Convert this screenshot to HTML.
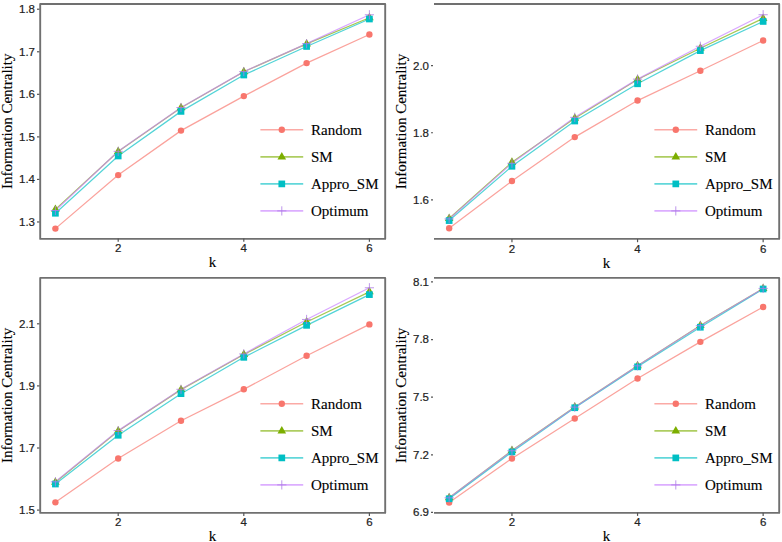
<!DOCTYPE html><html><head><meta charset="utf-8"><style>html,body{margin:0;padding:0;background:#fff;width:782px;height:542px;overflow:hidden}svg{display:block}.t{font-family:"Liberation Sans",sans-serif;font-size:11.5px;fill:#222;stroke:#222;stroke-width:0.2px}.s{font-family:"Liberation Serif",serif;font-size:15px;fill:#000;stroke:#000;stroke-width:0.12px}</style></head><body>
<svg width="782" height="542" viewBox="0 0 782 542"><g><rect width="782" height="542" fill="#fff"/>
<polyline points="55.4,228.61 118.2,175.08 181,130.62 243.8,96.11 306.6,63.09 369.4,34.5" fill="none" stroke="#F8766D" stroke-width="1.25" stroke-opacity="0.68"/>
<polyline points="55.4,209.38 118.2,151.55 181,107.73 243.8,71.77 306.6,43.9 369.4,17.73" fill="none" stroke="#7CAE00" stroke-width="1.25" stroke-opacity="0.68"/>
<polyline points="55.4,213.25 118.2,155.98 181,111.39 243.8,75.01 306.6,46.46 369.4,19.01" fill="none" stroke="#00BFC4" stroke-width="1.25" stroke-opacity="0.68"/>
<polyline points="55.4,210.49 118.2,151.34 181,107.52 243.8,71.6 306.6,43.69 369.4,14.76" fill="none" stroke="#C77CFF" stroke-width="1.25" stroke-opacity="0.68"/>
<circle cx="55.4" cy="228.61" r="3.2" fill="#F8766D"/>
<circle cx="118.2" cy="175.08" r="3.2" fill="#F8766D"/>
<circle cx="181" cy="130.62" r="3.2" fill="#F8766D"/>
<circle cx="243.8" cy="96.11" r="3.2" fill="#F8766D"/>
<circle cx="306.6" cy="63.09" r="3.2" fill="#F8766D"/>
<circle cx="369.4" cy="34.5" r="3.2" fill="#F8766D"/>
<polygon points="55.4,204.4 59.71,211.87 51.09,211.87" fill="#7CAE00"/>
<polygon points="118.2,146.58 122.51,154.04 113.89,154.04" fill="#7CAE00"/>
<polygon points="181,102.75 185.31,110.22 176.69,110.22" fill="#7CAE00"/>
<polygon points="243.8,66.8 248.11,74.26 239.49,74.26" fill="#7CAE00"/>
<polygon points="306.6,38.93 310.91,46.39 302.29,46.39" fill="#7CAE00"/>
<polygon points="369.4,12.76 373.71,20.22 365.09,20.22" fill="#7CAE00"/>
<rect x="52.05" y="209.9" width="6.7" height="6.7" fill="#00BFC4"/>
<rect x="114.85" y="152.63" width="6.7" height="6.7" fill="#00BFC4"/>
<rect x="177.65" y="108.04" width="6.7" height="6.7" fill="#00BFC4"/>
<rect x="240.45" y="71.66" width="6.7" height="6.7" fill="#00BFC4"/>
<rect x="303.25" y="43.11" width="6.7" height="6.7" fill="#00BFC4"/>
<rect x="366.05" y="15.66" width="6.7" height="6.7" fill="#00BFC4"/>
<path d="M50.8 210.49H60M55.4 205.89V215.09" stroke="#AE7CE6" stroke-width="0.95" stroke-opacity="0.85" fill="none"/>
<path d="M113.6 151.34H122.8M118.2 146.74V155.94" stroke="#AE7CE6" stroke-width="0.95" stroke-opacity="0.85" fill="none"/>
<path d="M176.4 107.52H185.6M181 102.92V112.12" stroke="#AE7CE6" stroke-width="0.95" stroke-opacity="0.85" fill="none"/>
<path d="M239.2 71.6H248.4M243.8 67V76.2" stroke="#AE7CE6" stroke-width="0.95" stroke-opacity="0.85" fill="none"/>
<path d="M302 43.69H311.2M306.6 39.09V48.29" stroke="#AE7CE6" stroke-width="0.95" stroke-opacity="0.85" fill="none"/>
<path d="M364.8 14.76H374M369.4 10.16V19.36" stroke="#AE7CE6" stroke-width="0.95" stroke-opacity="0.85" fill="none"/>
<line x1="260.4" y1="129.7" x2="303.2" y2="129.7" stroke="#F8766D" stroke-width="1.6" stroke-opacity="0.62"/>
<circle cx="281.8" cy="129.7" r="3.2" fill="#F8766D"/>
<text class="s" x="311" y="134.7">Random</text>
<line x1="260.4" y1="156.9" x2="303.2" y2="156.9" stroke="#7CAE00" stroke-width="1.6" stroke-opacity="0.62"/>
<polygon points="281.8,151.92 286.11,159.39 277.49,159.39" fill="#7CAE00"/>
<text class="s" x="311" y="161.9">SM</text>
<line x1="260.4" y1="183.9" x2="303.2" y2="183.9" stroke="#00BFC4" stroke-width="1.6" stroke-opacity="0.62"/>
<rect x="278.45" y="180.55" width="6.7" height="6.7" fill="#00BFC4"/>
<text class="s" x="311" y="188.9">Appro_SM</text>
<line x1="260.4" y1="210.9" x2="303.2" y2="210.9" stroke="#C77CFF" stroke-width="1.6" stroke-opacity="0.62"/>
<path d="M277.2 210.9H286.4M281.8 206.3V215.5" stroke="#AE7CE6" stroke-width="0.95" stroke-opacity="0.85" fill="none"/>
<text class="s" x="311" y="215.9">Optimum</text>
<path d="M40.2 4H385.2V238.9H40.2Z" fill="none" stroke="#707070" stroke-width="1.9" stroke-linejoin="round"/>
<line x1="37" y1="221.97" x2="39.5" y2="221.97" stroke="#555" stroke-width="1.2"/>
<text class="t" x="35" y="225.78" text-anchor="end">1.3</text>
<line x1="37" y1="179.43" x2="39.5" y2="179.43" stroke="#555" stroke-width="1.2"/>
<text class="t" x="35" y="183.23" text-anchor="end">1.4</text>
<line x1="37" y1="136.88" x2="39.5" y2="136.88" stroke="#555" stroke-width="1.2"/>
<text class="t" x="35" y="140.68" text-anchor="end">1.5</text>
<line x1="37" y1="94.32" x2="39.5" y2="94.32" stroke="#555" stroke-width="1.2"/>
<text class="t" x="35" y="98.12" text-anchor="end">1.6</text>
<line x1="37" y1="51.78" x2="39.5" y2="51.78" stroke="#555" stroke-width="1.2"/>
<text class="t" x="35" y="55.58" text-anchor="end">1.7</text>
<line x1="37" y1="9.22" x2="39.5" y2="9.22" stroke="#555" stroke-width="1.2"/>
<text class="t" x="35" y="13.02" text-anchor="end">1.8</text>
<line x1="118.2" y1="238.5" x2="118.2" y2="241.7" stroke="#555" stroke-width="1.2"/>
<text class="t" x="118.2" y="252.2" text-anchor="middle">2</text>
<line x1="243.8" y1="238.5" x2="243.8" y2="241.7" stroke="#555" stroke-width="1.2"/>
<text class="t" x="243.8" y="252.2" text-anchor="middle">4</text>
<line x1="369.4" y1="238.5" x2="369.4" y2="241.7" stroke="#555" stroke-width="1.2"/>
<text class="t" x="369.4" y="252.2" text-anchor="middle">6</text>
<text class="s" x="212.5" y="267.2" text-anchor="middle">k</text>
<text class="s" transform="translate(11.7 121.25) rotate(-90)" text-anchor="middle">Information Centrality</text>
<polyline points="449.15,228.3 511.95,181.03 574.75,137.11 637.55,100.57 700.35,70.73 763.15,40.56" fill="none" stroke="#F8766D" stroke-width="1.25" stroke-opacity="0.68"/>
<polyline points="449.15,218.57 511.95,162.25 574.75,118.33 637.55,79.45 700.35,48.27 763.15,18.43" fill="none" stroke="#7CAE00" stroke-width="1.25" stroke-opacity="0.68"/>
<polyline points="449.15,220.59 511.95,166.28 574.75,121.02 637.55,83.8 700.35,50.61 763.15,21.45" fill="none" stroke="#00BFC4" stroke-width="1.25" stroke-opacity="0.68"/>
<polyline points="449.15,218.91 511.95,163.26 574.75,117.33 637.55,79.11 700.35,46.26 763.15,14.74" fill="none" stroke="#C77CFF" stroke-width="1.25" stroke-opacity="0.68"/>
<circle cx="449.15" cy="228.3" r="3.2" fill="#F8766D"/>
<circle cx="511.95" cy="181.03" r="3.2" fill="#F8766D"/>
<circle cx="574.75" cy="137.11" r="3.2" fill="#F8766D"/>
<circle cx="637.55" cy="100.57" r="3.2" fill="#F8766D"/>
<circle cx="700.35" cy="70.73" r="3.2" fill="#F8766D"/>
<circle cx="763.15" cy="40.56" r="3.2" fill="#F8766D"/>
<polygon points="449.15,213.6 453.46,221.06 444.84,221.06" fill="#7CAE00"/>
<polygon points="511.95,157.28 516.26,164.74 507.64,164.74" fill="#7CAE00"/>
<polygon points="574.75,113.36 579.06,120.82 570.44,120.82" fill="#7CAE00"/>
<polygon points="637.55,74.47 641.86,81.93 633.24,81.93" fill="#7CAE00"/>
<polygon points="700.35,43.29 704.66,50.76 696.04,50.76" fill="#7CAE00"/>
<polygon points="763.15,13.45 767.46,20.92 758.84,20.92" fill="#7CAE00"/>
<rect x="445.8" y="217.24" width="6.7" height="6.7" fill="#00BFC4"/>
<rect x="508.6" y="162.93" width="6.7" height="6.7" fill="#00BFC4"/>
<rect x="571.4" y="117.67" width="6.7" height="6.7" fill="#00BFC4"/>
<rect x="634.2" y="80.45" width="6.7" height="6.7" fill="#00BFC4"/>
<rect x="697" y="47.26" width="6.7" height="6.7" fill="#00BFC4"/>
<rect x="759.8" y="18.1" width="6.7" height="6.7" fill="#00BFC4"/>
<path d="M444.55 218.91H453.75M449.15 214.31V223.51" stroke="#AE7CE6" stroke-width="0.95" stroke-opacity="0.85" fill="none"/>
<path d="M507.35 163.26H516.55M511.95 158.66V167.86" stroke="#AE7CE6" stroke-width="0.95" stroke-opacity="0.85" fill="none"/>
<path d="M570.15 117.33H579.35M574.75 112.73V121.93" stroke="#AE7CE6" stroke-width="0.95" stroke-opacity="0.85" fill="none"/>
<path d="M632.95 79.11H642.15M637.55 74.51V83.71" stroke="#AE7CE6" stroke-width="0.95" stroke-opacity="0.85" fill="none"/>
<path d="M695.75 46.26H704.95M700.35 41.66V50.86" stroke="#AE7CE6" stroke-width="0.95" stroke-opacity="0.85" fill="none"/>
<path d="M758.55 14.74H767.75M763.15 10.14V19.34" stroke="#AE7CE6" stroke-width="0.95" stroke-opacity="0.85" fill="none"/>
<line x1="654.4" y1="129.7" x2="697.2" y2="129.7" stroke="#F8766D" stroke-width="1.6" stroke-opacity="0.62"/>
<circle cx="675.8" cy="129.7" r="3.2" fill="#F8766D"/>
<text class="s" x="705" y="134.7">Random</text>
<line x1="654.4" y1="156.9" x2="697.2" y2="156.9" stroke="#7CAE00" stroke-width="1.6" stroke-opacity="0.62"/>
<polygon points="675.8,151.92 680.11,159.39 671.49,159.39" fill="#7CAE00"/>
<text class="s" x="705" y="161.9">SM</text>
<line x1="654.4" y1="183.9" x2="697.2" y2="183.9" stroke="#00BFC4" stroke-width="1.6" stroke-opacity="0.62"/>
<rect x="672.45" y="180.55" width="6.7" height="6.7" fill="#00BFC4"/>
<text class="s" x="705" y="188.9">Appro_SM</text>
<line x1="654.4" y1="210.9" x2="697.2" y2="210.9" stroke="#C77CFF" stroke-width="1.6" stroke-opacity="0.62"/>
<path d="M671.2 210.9H680.4M675.8 206.3V215.5" stroke="#AE7CE6" stroke-width="0.95" stroke-opacity="0.85" fill="none"/>
<text class="s" x="705" y="215.9">Optimum</text>
<path d="M434 4H779.2V238.9H434" fill="none" stroke="#707070" stroke-width="1.9" stroke-linejoin="round"/>
<line x1="431" y1="199.8" x2="433" y2="199.8" stroke="#555" stroke-width="1.2"/>
<text class="t" x="429" y="203.6" text-anchor="end">1.6</text>
<line x1="431" y1="132.75" x2="433" y2="132.75" stroke="#555" stroke-width="1.2"/>
<text class="t" x="429" y="136.55" text-anchor="end">1.8</text>
<line x1="431" y1="65.7" x2="433" y2="65.7" stroke="#555" stroke-width="1.2"/>
<text class="t" x="429" y="69.5" text-anchor="end">2.0</text>
<line x1="511.95" y1="239" x2="511.95" y2="242.2" stroke="#555" stroke-width="1.2"/>
<text class="t" x="511.95" y="252.7" text-anchor="middle">2</text>
<line x1="637.55" y1="239" x2="637.55" y2="242.2" stroke="#555" stroke-width="1.2"/>
<text class="t" x="637.55" y="252.7" text-anchor="middle">4</text>
<line x1="763.15" y1="239" x2="763.15" y2="242.2" stroke="#555" stroke-width="1.2"/>
<text class="t" x="763.15" y="252.7" text-anchor="middle">6</text>
<text class="s" x="606.5" y="267.7" text-anchor="middle">k</text>
<text class="s" transform="translate(405.7 121.5) rotate(-90)" text-anchor="middle">Information Centrality</text>
<polyline points="55.4,502.34 118.2,458.56 181,420.68 243.8,389.32 306.6,355.78 369.4,324.42" fill="none" stroke="#F8766D" stroke-width="1.25" stroke-opacity="0.68"/>
<polyline points="55.4,482.15 118.2,430.92 181,389.63 243.8,354.54 306.6,321.94 369.4,291.82" fill="none" stroke="#7CAE00" stroke-width="1.25" stroke-opacity="0.68"/>
<polyline points="55.4,484.02 118.2,435.27 181,393.66 243.8,357.33 306.6,325.35 369.4,294.61" fill="none" stroke="#00BFC4" stroke-width="1.25" stroke-opacity="0.68"/>
<polyline points="55.4,481.84 118.2,430.61 181,389.32 243.8,353.92 306.6,319.45 369.4,287.78" fill="none" stroke="#C77CFF" stroke-width="1.25" stroke-opacity="0.68"/>
<circle cx="55.4" cy="502.34" r="3.2" fill="#F8766D"/>
<circle cx="118.2" cy="458.56" r="3.2" fill="#F8766D"/>
<circle cx="181" cy="420.68" r="3.2" fill="#F8766D"/>
<circle cx="243.8" cy="389.32" r="3.2" fill="#F8766D"/>
<circle cx="306.6" cy="355.78" r="3.2" fill="#F8766D"/>
<circle cx="369.4" cy="324.42" r="3.2" fill="#F8766D"/>
<polygon points="55.4,477.18 59.71,484.64 51.09,484.64" fill="#7CAE00"/>
<polygon points="118.2,425.95 122.51,433.41 113.89,433.41" fill="#7CAE00"/>
<polygon points="181,384.65 185.31,392.12 176.69,392.12" fill="#7CAE00"/>
<polygon points="243.8,349.56 248.11,357.03 239.49,357.03" fill="#7CAE00"/>
<polygon points="306.6,316.96 310.91,324.43 302.29,324.43" fill="#7CAE00"/>
<polygon points="369.4,286.84 373.71,294.31 365.09,294.31" fill="#7CAE00"/>
<rect x="52.05" y="480.67" width="6.7" height="6.7" fill="#00BFC4"/>
<rect x="114.85" y="431.92" width="6.7" height="6.7" fill="#00BFC4"/>
<rect x="177.65" y="390.31" width="6.7" height="6.7" fill="#00BFC4"/>
<rect x="240.45" y="353.98" width="6.7" height="6.7" fill="#00BFC4"/>
<rect x="303.25" y="322" width="6.7" height="6.7" fill="#00BFC4"/>
<rect x="366.05" y="291.26" width="6.7" height="6.7" fill="#00BFC4"/>
<path d="M50.8 481.84H60M55.4 477.24V486.44" stroke="#AE7CE6" stroke-width="0.95" stroke-opacity="0.85" fill="none"/>
<path d="M113.6 430.61H122.8M118.2 426.01V435.21" stroke="#AE7CE6" stroke-width="0.95" stroke-opacity="0.85" fill="none"/>
<path d="M176.4 389.32H185.6M181 384.72V393.92" stroke="#AE7CE6" stroke-width="0.95" stroke-opacity="0.85" fill="none"/>
<path d="M239.2 353.92H248.4M243.8 349.32V358.52" stroke="#AE7CE6" stroke-width="0.95" stroke-opacity="0.85" fill="none"/>
<path d="M302 319.45H311.2M306.6 314.85V324.05" stroke="#AE7CE6" stroke-width="0.95" stroke-opacity="0.85" fill="none"/>
<path d="M364.8 287.78H374M369.4 283.18V292.38" stroke="#AE7CE6" stroke-width="0.95" stroke-opacity="0.85" fill="none"/>
<line x1="260.4" y1="403.7" x2="303.2" y2="403.7" stroke="#F8766D" stroke-width="1.6" stroke-opacity="0.62"/>
<circle cx="281.8" cy="403.7" r="3.2" fill="#F8766D"/>
<text class="s" x="311" y="408.7">Random</text>
<line x1="260.4" y1="430.9" x2="303.2" y2="430.9" stroke="#7CAE00" stroke-width="1.6" stroke-opacity="0.62"/>
<polygon points="281.8,425.92 286.11,433.39 277.49,433.39" fill="#7CAE00"/>
<text class="s" x="311" y="435.9">SM</text>
<line x1="260.4" y1="457.9" x2="303.2" y2="457.9" stroke="#00BFC4" stroke-width="1.6" stroke-opacity="0.62"/>
<rect x="278.45" y="454.55" width="6.7" height="6.7" fill="#00BFC4"/>
<text class="s" x="311" y="462.9">Appro_SM</text>
<line x1="260.4" y1="484.9" x2="303.2" y2="484.9" stroke="#C77CFF" stroke-width="1.6" stroke-opacity="0.62"/>
<path d="M277.2 484.9H286.4M281.8 480.3V489.5" stroke="#AE7CE6" stroke-width="0.95" stroke-opacity="0.85" fill="none"/>
<text class="s" x="311" y="489.9">Optimum</text>
<path d="M40.2 277.9H385.2V512.9H40.2Z" fill="none" stroke="#707070" stroke-width="1.9" stroke-linejoin="round"/>
<line x1="37" y1="510.1" x2="39.5" y2="510.1" stroke="#555" stroke-width="1.2"/>
<text class="t" x="35" y="513.9" text-anchor="end">1.5</text>
<line x1="37" y1="448" x2="39.5" y2="448" stroke="#555" stroke-width="1.2"/>
<text class="t" x="35" y="451.8" text-anchor="end">1.7</text>
<line x1="37" y1="385.9" x2="39.5" y2="385.9" stroke="#555" stroke-width="1.2"/>
<text class="t" x="35" y="389.7" text-anchor="end">1.9</text>
<line x1="37" y1="323.8" x2="39.5" y2="323.8" stroke="#555" stroke-width="1.2"/>
<text class="t" x="35" y="327.6" text-anchor="end">2.1</text>
<line x1="118.2" y1="512.7" x2="118.2" y2="515.9" stroke="#555" stroke-width="1.2"/>
<text class="t" x="118.2" y="526.4" text-anchor="middle">2</text>
<line x1="243.8" y1="512.7" x2="243.8" y2="515.9" stroke="#555" stroke-width="1.2"/>
<text class="t" x="243.8" y="526.4" text-anchor="middle">4</text>
<line x1="369.4" y1="512.7" x2="369.4" y2="515.9" stroke="#555" stroke-width="1.2"/>
<text class="t" x="369.4" y="526.4" text-anchor="middle">6</text>
<text class="s" x="212.5" y="541.4" text-anchor="middle">k</text>
<text class="s" transform="translate(11.7 395.35) rotate(-90)" text-anchor="middle">Information Centrality</text>
<polyline points="449.15,502.43 511.95,458.44 574.75,418.48 637.55,378.53 700.35,341.84 763.15,307.07" fill="none" stroke="#F8766D" stroke-width="1.25" stroke-opacity="0.68"/>
<polyline points="449.15,497.82 511.95,450.56 574.75,406.96 637.55,365.66 700.35,325.51 763.15,288.43" fill="none" stroke="#7CAE00" stroke-width="1.25" stroke-opacity="0.68"/>
<polyline points="449.15,498.78 511.95,451.91 574.75,407.73 637.55,366.81 700.35,327.24 763.15,289.01" fill="none" stroke="#00BFC4" stroke-width="1.25" stroke-opacity="0.68"/>
<polyline points="449.15,497.82 511.95,450.76 574.75,407.15 637.55,365.85 700.35,325.7 763.15,288.43" fill="none" stroke="#C77CFF" stroke-width="1.25" stroke-opacity="0.68"/>
<circle cx="449.15" cy="502.43" r="3.2" fill="#F8766D"/>
<circle cx="511.95" cy="458.44" r="3.2" fill="#F8766D"/>
<circle cx="574.75" cy="418.48" r="3.2" fill="#F8766D"/>
<circle cx="637.55" cy="378.53" r="3.2" fill="#F8766D"/>
<circle cx="700.35" cy="341.84" r="3.2" fill="#F8766D"/>
<circle cx="763.15" cy="307.07" r="3.2" fill="#F8766D"/>
<polygon points="449.15,492.84 453.46,500.31 444.84,500.31" fill="#7CAE00"/>
<polygon points="511.95,445.59 516.26,453.05 507.64,453.05" fill="#7CAE00"/>
<polygon points="574.75,401.98 579.06,409.45 570.44,409.45" fill="#7CAE00"/>
<polygon points="637.55,360.68 641.86,368.15 633.24,368.15" fill="#7CAE00"/>
<polygon points="700.35,320.53 704.66,328 696.04,328" fill="#7CAE00"/>
<polygon points="763.15,283.46 767.46,290.92 758.84,290.92" fill="#7CAE00"/>
<rect x="445.8" y="495.43" width="6.7" height="6.7" fill="#00BFC4"/>
<rect x="508.6" y="448.56" width="6.7" height="6.7" fill="#00BFC4"/>
<rect x="571.4" y="404.38" width="6.7" height="6.7" fill="#00BFC4"/>
<rect x="634.2" y="363.46" width="6.7" height="6.7" fill="#00BFC4"/>
<rect x="697" y="323.89" width="6.7" height="6.7" fill="#00BFC4"/>
<rect x="759.8" y="285.66" width="6.7" height="6.7" fill="#00BFC4"/>
<path d="M444.55 497.82H453.75M449.15 493.22V502.42" stroke="#AE7CE6" stroke-width="0.95" stroke-opacity="0.85" fill="none"/>
<path d="M507.35 450.76H516.55M511.95 446.16V455.36" stroke="#AE7CE6" stroke-width="0.95" stroke-opacity="0.85" fill="none"/>
<path d="M570.15 407.15H579.35M574.75 402.55V411.75" stroke="#AE7CE6" stroke-width="0.95" stroke-opacity="0.85" fill="none"/>
<path d="M632.95 365.85H642.15M637.55 361.25V370.45" stroke="#AE7CE6" stroke-width="0.95" stroke-opacity="0.85" fill="none"/>
<path d="M695.75 325.7H704.95M700.35 321.1V330.3" stroke="#AE7CE6" stroke-width="0.95" stroke-opacity="0.85" fill="none"/>
<path d="M758.55 288.43H767.75M763.15 283.83V293.03" stroke="#AE7CE6" stroke-width="0.95" stroke-opacity="0.85" fill="none"/>
<line x1="654.4" y1="403.7" x2="697.2" y2="403.7" stroke="#F8766D" stroke-width="1.6" stroke-opacity="0.62"/>
<circle cx="675.8" cy="403.7" r="3.2" fill="#F8766D"/>
<text class="s" x="705" y="408.7">Random</text>
<line x1="654.4" y1="430.9" x2="697.2" y2="430.9" stroke="#7CAE00" stroke-width="1.6" stroke-opacity="0.62"/>
<polygon points="675.8,425.92 680.11,433.39 671.49,433.39" fill="#7CAE00"/>
<text class="s" x="705" y="435.9">SM</text>
<line x1="654.4" y1="457.9" x2="697.2" y2="457.9" stroke="#00BFC4" stroke-width="1.6" stroke-opacity="0.62"/>
<rect x="672.45" y="454.55" width="6.7" height="6.7" fill="#00BFC4"/>
<text class="s" x="705" y="462.9">Appro_SM</text>
<line x1="654.4" y1="484.9" x2="697.2" y2="484.9" stroke="#C77CFF" stroke-width="1.6" stroke-opacity="0.62"/>
<path d="M671.2 484.9H680.4M675.8 480.3V489.5" stroke="#AE7CE6" stroke-width="0.95" stroke-opacity="0.85" fill="none"/>
<text class="s" x="705" y="489.9">Optimum</text>
<path d="M434 277.9H779.2V512.9H434" fill="none" stroke="#707070" stroke-width="1.9" stroke-linejoin="round"/>
<line x1="431" y1="512.42" x2="433" y2="512.42" stroke="#555" stroke-width="1.2"/>
<text class="t" x="429" y="516.22" text-anchor="end">6.9</text>
<line x1="431" y1="454.79" x2="433" y2="454.79" stroke="#555" stroke-width="1.2"/>
<text class="t" x="429" y="458.59" text-anchor="end">7.2</text>
<line x1="431" y1="397.16" x2="433" y2="397.16" stroke="#555" stroke-width="1.2"/>
<text class="t" x="429" y="400.96" text-anchor="end">7.5</text>
<line x1="431" y1="339.53" x2="433" y2="339.53" stroke="#555" stroke-width="1.2"/>
<text class="t" x="429" y="343.33" text-anchor="end">7.8</text>
<line x1="431" y1="281.9" x2="433" y2="281.9" stroke="#555" stroke-width="1.2"/>
<text class="t" x="429" y="285.7" text-anchor="end">8.1</text>
<line x1="511.95" y1="512.7" x2="511.95" y2="515.9" stroke="#555" stroke-width="1.2"/>
<text class="t" x="511.95" y="526.4" text-anchor="middle">2</text>
<line x1="637.55" y1="512.7" x2="637.55" y2="515.9" stroke="#555" stroke-width="1.2"/>
<text class="t" x="637.55" y="526.4" text-anchor="middle">4</text>
<line x1="763.15" y1="512.7" x2="763.15" y2="515.9" stroke="#555" stroke-width="1.2"/>
<text class="t" x="763.15" y="526.4" text-anchor="middle">6</text>
<text class="s" x="606.5" y="541.4" text-anchor="middle">k</text>
<text class="s" transform="translate(405.7 395.35) rotate(-90)" text-anchor="middle">Information Centrality</text>
</g></svg></body></html>
